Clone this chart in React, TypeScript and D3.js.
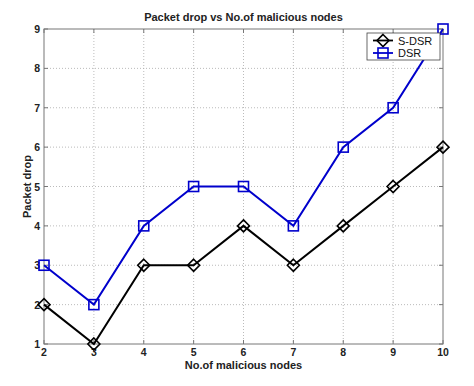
import React from "react";
import * as d3 from "d3";

const nodes = [2, 3, 4, 5, 6, 7, 8, 9, 10];
const sdsr = [2, 1, 3, 3, 4, 3, 4, 5, 6];
const dsr = [3, 2, 4, 5, 5, 4, 6, 7, 9];
const xTicks = [2, 3, 4, 5, 6, 7, 8, 9, 10];
const yTicks = [1, 2, 3, 4, 5, 6, 7, 8, 9];

const W = 474, H = 386;
const L = 44, R = 443, T = 29, B = 344;
const font = "Liberation Sans, Arial, sans-serif";

export default function App() {
  const x = d3.scaleLinear().domain([2, 10]).range([L, R]);
  const y = d3.scaleLinear().domain([1, 9]).range([B, T]);
  const line = d3.line<number>().x((_, i) => x(nodes[i])).y((d) => y(d));
  const diamond = (cx: number, cy: number, k: string) => (
    <path key={k} d={`M${cx},${cy - 6}L${cx + 6},${cy}L${cx},${cy + 6}L${cx - 6},${cy}Z`} fill="none" stroke="#000" strokeWidth={1.6} />
  );
  const square = (cx: number, cy: number, k: string) => (
    <rect key={k} x={cx - 5} y={cy - 5} width={10} height={10} fill="none" stroke="#0000cc" strokeWidth={1.6} />
  );
  return (
    <svg width={W} height={H} style={{ position: "absolute", left: 0, top: 0, background: "#fff" }} fontFamily={font}>
      <rect x={0} y={0} width={W} height={H} fill="#fff" />
      {xTicks.slice(1, -1).map((t) => (
        <line key={"gx" + t} x1={x(t)} x2={x(t)} y1={T} y2={B} stroke="#aaa" strokeWidth={0.8} strokeDasharray="1,2" />
      ))}
      {yTicks.slice(1, -1).map((t) => (
        <line key={"gy" + t} x1={L} x2={R} y1={y(t)} y2={y(t)} stroke="#aaa" strokeWidth={0.8} strokeDasharray="1,2" />
      ))}
      {xTicks.map((t) => (
        <g key={"tx" + t}>
          <line x1={x(t)} x2={x(t)} y1={B} y2={B - 4} stroke="#777" />
          <line x1={x(t)} x2={x(t)} y1={T} y2={T + 4} stroke="#777" />
          <text x={x(t)} y={B + 12} textAnchor="middle" fontSize={10.5} fontWeight="bold" fill="#222">{t}</text>
        </g>
      ))}
      {yTicks.map((t) => (
        <g key={"ty" + t}>
          <line x1={L} x2={L + 4} y1={y(t)} y2={y(t)} stroke="#777" />
          <line x1={R} x2={R - 4} y1={y(t)} y2={y(t)} stroke="#777" />
          <text x={L - 4} y={y(t) + 4} textAnchor="end" fontSize={10.5} fontWeight="bold" fill="#222">{t}</text>
        </g>
      ))}
      <rect x={L} y={T} width={R - L} height={B - T} fill="none" stroke="#777" strokeWidth={1} />
      <path d={line(sdsr) || ""} fill="none" stroke="#000" strokeWidth={2} />
      <path d={line(dsr) || ""} fill="none" stroke="#0000cc" strokeWidth={2} />
      {sdsr.map((v, i) => diamond(x(nodes[i]), y(v), "d" + i))}
      {dsr.map((v, i) => square(x(nodes[i]), y(v), "s" + i))}
      <text x={(L + R) / 2} y={21} textAnchor="middle" fontSize={11} fontWeight="bold" fill="#222">Packet drop vs No.of malicious nodes</text>
      <text x={(L + R) / 2} y={369} textAnchor="middle" fontSize={11} fontWeight="bold" fill="#222">No.of malicious nodes</text>
      <text transform={`translate(31,${(T + B) / 2}) rotate(-90)`} textAnchor="middle" fontSize={11} fontWeight="bold" fill="#222">Packet drop</text>
      <g>
        <rect x={367} y={33} width={73} height={27} fill="#fff" stroke="#444" strokeWidth={0.8} />
        <line x1={373} x2={393} y1={40.5} y2={40.5} stroke="#000" strokeWidth={1.8} />
        {diamond(383, 40.5, "ld")}
        <text x={398} y={44.5} fontSize={11} fill="#111">S-DSR</text>
        <line x1={373} x2={393} y1={53} y2={53} stroke="#0000cc" strokeWidth={1.8} />
        {square(383, 53, "ls")}
        <text x={398} y={57} fontSize={11} fill="#111">DSR</text>
      </g>
    </svg>
  );
}
